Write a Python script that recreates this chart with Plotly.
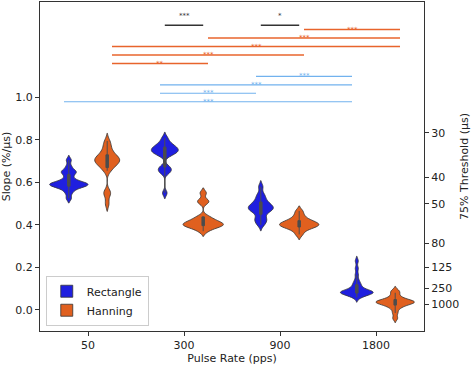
import plotly.graph_objects as go

# ---------------- data ----------------
categories = ["50", "300", "900", "1800"]
series_names = ["Rectangle", "Hanning"]

rect_50 = [0.525, 0.55, 0.565, 0.575, 0.58, 0.585, 0.585, 0.59, 0.59, 0.595, 0.595, 0.60,
           0.605, 0.615, 0.63, 0.645, 0.65, 0.655, 0.675, 0.705]
hann_50 = [0.50, 0.545, 0.555, 0.655, 0.67, 0.68, 0.69, 0.695, 0.70, 0.705, 0.71, 0.715,
           0.72, 0.73, 0.74, 0.755, 0.775, 0.795]
rect_300 = [0.55, 0.645, 0.655, 0.665, 0.675, 0.725, 0.735, 0.74, 0.745, 0.75, 0.755, 0.76,
            0.765, 0.77, 0.78, 0.79, 0.81]
hann_300 = [0.37, 0.385, 0.39, 0.395, 0.40, 0.40, 0.405, 0.41, 0.415, 0.42, 0.43, 0.44,
            0.505, 0.515, 0.55]
rect_900 = [0.40, 0.415, 0.425, 0.435, 0.455, 0.465, 0.47, 0.475, 0.48, 0.485, 0.49, 0.495,
            0.505, 0.515, 0.53, 0.545, 0.58]
hann_900 = [0.355, 0.375, 0.385, 0.39, 0.395, 0.40, 0.40, 0.405, 0.41, 0.415, 0.42, 0.43,
            0.445, 0.465]
rect_1800 = [0.058, 0.065, 0.07, 0.074, 0.077, 0.079, 0.08, 0.081, 0.082, 0.083, 0.085,
             0.087, 0.09, 0.094, 0.10, 0.108, 0.118, 0.125, 0.14, 0.165, 0.195, 0.23]
hann_1800 = [-0.04, -0.015, 0.005, 0.015, 0.022, 0.027, 0.03, 0.033, 0.035, 0.037, 0.039,
             0.041, 0.044, 0.048, 0.055, 0.065, 0.08, 0.09]

rect_samples = [rect_50, rect_300, rect_900, rect_1800]
hann_samples = [hann_50, hann_300, hann_900, hann_1800]

# significance comparisons (group a, group b, label)
rect_comparisons = [("50", "1800", "***"), ("300", "900", "***"),
                    ("300", "1800", "***"), ("900", "1800", "***")]
hann_comparisons = [("50", "300", "**"), ("50", "900", "***"), ("50", "1800", "***"),
                    ("300", "1800", "***"), ("900", "1800", "***")]
between_comparisons = [("300", "***"), ("900", "*")]

threshold_ticks = [30, 40, 50, 80, 125, 250, 1000]
slope_per_threshold = 25.0   # slope (%/us) = 25 / threshold (us)

# ---------------- styles ----------------
BLUE = "#1f1fdf"
ORANGE = "#e0601f"
BLUE_LINE = "#72b2ee"
ORANGE_LINE = "#e8642c"
DARK = "#333333"
FONT = "DejaVu Sans"
Y_RANGE = [-0.1, 1.45]
DODGE = 0.2
CAT_PX = 96.0
BOX_PX = 2.5
# max width of each violin (category units) and KDE bandwidth, per series / category
RECT_WIDTHS = [0.40, 0.28, 0.26, 0.34]
HANN_WIDTHS = [0.26, 0.42, 0.41, 0.40]
RECT_BW = [0.011, 0.013, 0.014, 0.011]
HANN_BW = [0.018, 0.012, 0.012, 0.010]

fig = go.Figure()


def add_series(name, samples, color, offset, widths, bws):
    for i, vals in enumerate(samples):
        fig.add_trace(go.Violin(
            y=vals, x0=i + offset, name=name, legendgroup=name,
            showlegend=(i == 0), scalegroup=f"{name}{i}", scalemode="width",
            width=widths[i], bandwidth=bws[i],
            fillcolor=color, opacity=1,
            line=dict(color="#333333", width=0.8),
            box=dict(visible=True, width=BOX_PX / (widths[i] * CAT_PX),
                     fillcolor="#4d4d4d", line=dict(color="#4d4d4d", width=1)),
            meanline=dict(visible=False), points=False, spanmode="soft",
            hoverinfo="skip",
        ))


add_series(series_names[0], rect_samples, BLUE, -DODGE, RECT_WIDTHS, RECT_BW)
add_series(series_names[1], hann_samples, ORANGE, DODGE, HANN_WIDTHS, HANN_BW)

idx = {c: i for i, c in enumerate(categories)}
shapes, annotations = [], []


def sig_bar(x0, x1, y, color, width, label, yshift, anchor):
    shapes.append(dict(type="line", xref="x", yref="y", x0=x0, x1=x1, y0=y, y1=y,
                       line=dict(color=color, width=width)))
    annotations.append(dict(x=(x0 + x1) / 2, y=y, xref="x", yref="y", text=label,
                            showarrow=False, yanchor=anchor, yshift=yshift,
                            font=dict(family=FONT, size=7, color=color)))


for k, (a, b, lab) in enumerate(rect_comparisons):
    sig_bar(idx[a] - DODGE - 0.05, idx[b] - DODGE - 0.05, 0.98 + 0.04 * k,
            BLUE_LINE, 1.2, lab, 0, "middle")
for k, (a, b, lab) in enumerate(hann_comparisons):
    sig_bar(idx[a] + DODGE + 0.05, idx[b] + DODGE + 0.05, 1.16 + 0.04 * k,
            ORANGE_LINE, 1.5, lab, 0, "middle")
for c, lab in between_comparisons:
    sig_bar(idx[c] - DODGE, idx[c] + DODGE, 1.34, DARK, 1.5, lab, 3, "bottom")

fig.add_trace(go.Scatter(x=[0], y=[None], yaxis="y2", showlegend=False,
                         hoverinfo="skip", mode="lines"))

axis_common = dict(showline=True, linecolor=DARK, linewidth=1, ticks="outside",
                   ticklen=4, tickcolor=DARK, showgrid=False, zeroline=False,
                   automargin=False,
                   tickfont=dict(family=FONT, size=11, color="#222"))

fig.update_layout(
    width=474, height=365,
    margin=dict(l=40, r=50, t=2, b=34),
    plot_bgcolor="white", paper_bgcolor="white",
    violinmode="overlay",
    font=dict(family=FONT, size=11, color="#222"),
    xaxis=dict(range=[-0.5, 3.5], tickvals=list(range(len(categories))),
               ticktext=categories, mirror=True,
               title=dict(text="Pulse Rate (pps)", standoff=2,
                          font=dict(family=FONT, size=11)),
               **axis_common),
    yaxis=dict(range=Y_RANGE, tickvals=[0.0, 0.2, 0.4, 0.6, 0.8, 1.0],
               tickformat=".1f",
               title=dict(text="Slope (%/μs)", standoff=2,
                          font=dict(family=FONT, size=11)),
               **axis_common),
    yaxis2=dict(range=Y_RANGE, overlaying="y", side="right",
                tickvals=[slope_per_threshold / t for t in threshold_ticks],
                ticktext=[str(t) for t in threshold_ticks],
                title=dict(text="75% Threshold (μs)", standoff=2,
                           font=dict(family=FONT, size=11)),
                **axis_common),
    legend=dict(x=0.015, y=0.016, xanchor="left", yanchor="bottom",
                bordercolor="#cccccc", borderwidth=1, bgcolor="rgba(255,255,255,0.8)",
                font=dict(family=FONT, size=11), tracegroupgap=0),
    shapes=shapes, annotations=annotations,
)

fig.write_html("out.html", config={"displayModeBar": False},
               post_script="document.body.style.margin='0px';"
                           "document.body.style.overflow='hidden';")
